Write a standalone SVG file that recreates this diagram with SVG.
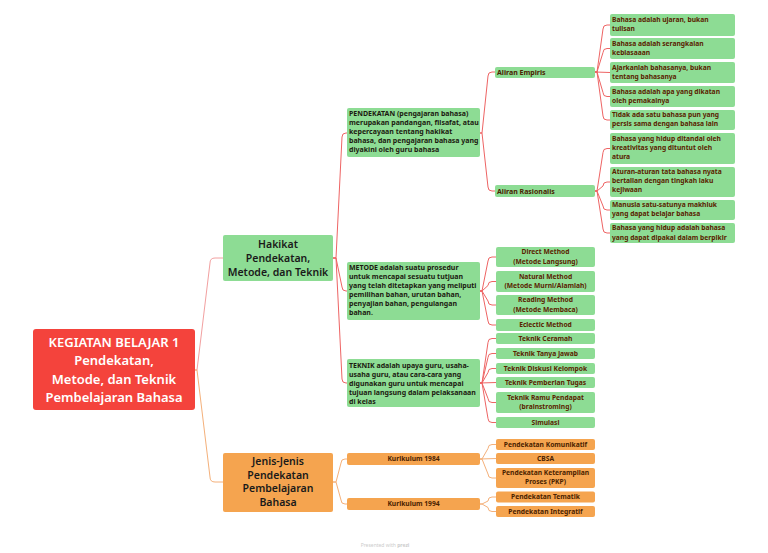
<svg xmlns="http://www.w3.org/2000/svg" width="768" height="553" viewBox="0 0 768 553">
<style>
.g{fill:#8ddc94}
.o{fill:#f5a44f}
.t{font-family:"Noto Sans","Liberation Sans",sans-serif;font-weight:bold}
.s{font-size:7px;fill:#1c1a10}
.l{font-size:6.7px;fill:#5a2300}
.c{text-anchor:middle}
.cr{fill:none;stroke:#ee6464;stroke-width:1}
.cr1{fill:none;stroke:#f2a0a0;stroke-width:1}
.co{fill:none;stroke:#f4b07a;stroke-width:1}
</style>
<rect width="768" height="553" fill="#ffffff"/>
<g id="connectors">
<path class="cr1" d="M195,370 L197,370 L210,263 Q210,258 215,258 L223,258"/>
<path class="co" d="M195,370 L197,370 L210,477 Q210,482 215,482 L223,482"/>
<path class="cr" d="M333,258 L336,258 L342,137 Q342,133 346,133 L347,133"/>
<path class="cr" d="M333,258 L336,258 L342,287 Q342,291 346,291 L347,291"/>
<path class="cr" d="M333,258 L336,258 L342,379 Q342,383 346,383 L347,383"/>
<path class="co" d="M333,482 L336,482 L341,463 Q341,459 345,459 L347,459"/>
<path class="co" d="M333,482 L336,482 L341,500 Q341,504 345,504 L347,504"/>
<path class="cr" d="M480,133 L482,133 L488,76 Q488,72 492,72 L495,72"/>
<path class="cr" d="M480,133 L482,133 L488,187 Q488,191 492,191 L495,191"/>
<path class="cr" d="M480,291 L482,291 L488,261 Q488,257 492,257 L496,257"/>
<path class="cr" d="M480,291 L482,291 L488,285.5 Q488,281.5 492,281.5 L496,281.5"/>
<path class="cr" d="M480,291 L482,291 L488,301 Q488,305 492,305 L496,305"/>
<path class="cr" d="M480,291 L482,291 L488,321 Q488,325 492,325 L496,325"/>
<path class="cr" d="M480,383 L482,383 L488,342.5 Q488,338.5 492,338.5 L496,338.5"/>
<path class="cr" d="M480,383 L482,383 L488,357.5 Q488,353.5 492,353.5 L496,353.5"/>
<path class="cr" d="M480,383 L482,383 L488,372.5 Q488,368.5 492,368.5 L496,368.5"/>
<path class="cr" d="M480,383 L496,382.5"/>
<path class="cr" d="M480,383 L482,383 L488,398.5 Q488,402.5 492,402.5 L496,402.5"/>
<path class="cr" d="M480,383 L482,383 L488,418.5 Q488,422.5 492,422.5 L496,422.5"/>
<path class="co" d="M480,459 L482,459 L488,448.5 Q488,444.5 492,444.5 L496,444.5"/>
<path class="co" d="M480,459 L496,458.5"/>
<path class="co" d="M480,459 L482,459 L488,474 Q488,478 492,478 L496,478"/>
<path class="co" d="M480,504 L482,504 L488,501 Q488,497 492,497 L496,497"/>
<path class="co" d="M480,504 L482,504 L488,507.5 Q488,511.5 492,511.5 L496,511.5"/>
<path class="cr" d="M595,72 L597,72 L603,29 Q603,25 607,25 L610,25"/>
<path class="cr" d="M595,72 L597,72 L603,52.5 Q603,48.5 607,48.5 L610,48.5"/>
<path class="cr" d="M595,72 L610,72.5"/>
<path class="cr" d="M595,72 L597,72 L603,92.5 Q603,96.5 607,96.5 L610,96.5"/>
<path class="cr" d="M595,72 L597,72 L603,116 Q603,120 607,120 L610,120"/>
<path class="cr" d="M595,191 L597,191 L603,152.5 Q603,148.5 607,148.5 L610,148.5"/>
<path class="cr" d="M595,191 L597,191 L603,186 Q603,182 607,182 L610,182"/>
<path class="cr" d="M595,191 L597,191 L603,206 Q603,210 607,210 L610,210"/>
<path class="cr" d="M595,191 L597,191 L603,229 Q603,233 607,233 L610,233"/>
</g>
<g id="root">
<rect x="33" y="329" width="162" height="81" rx="3" fill="#f4433c"/>
<text class="t c" x="114" font-size="13" fill="#ffffff" style="font-weight:600"><tspan x="114" y="346.5">KEGIATAN BELAJAR 1</tspan><tspan x="114" y="365">Pendekatan,</tspan><tspan x="114" y="383.5">Metode, dan Teknik</tspan><tspan x="114" y="402">Pembelajaran Bahasa</tspan></text>
</g>
<g id="hakikat">
<rect class="g" x="223" y="235" width="110" height="46" rx="2"/>
<text class="t c" font-size="10.5" fill="#1a1a1a" style="font-weight:600"><tspan x="278" y="247.8">Hakikat</tspan><tspan x="278" y="261.8">Pendekatan,</tspan><tspan x="278" y="275.8">Metode, dan Teknik</tspan></text>
</g>
<g id="jenis">
<rect class="o" x="223" y="453" width="110" height="59" rx="2"/>
<text class="t c" font-size="10.5" fill="#1a1a1a" style="font-weight:600"><tspan x="278" y="465.3">Jenis-Jenis</tspan><tspan x="278" y="478.8">Pendekatan</tspan><tspan x="278" y="492.3">Pembelajaran</tspan><tspan x="278" y="505.8">Bahasa</tspan></text>
</g>
<g id="pendekatan">
<rect class="g" x="347" y="108" width="133" height="49" rx="2"/>
<text class="t s"><tspan x="349" y="115.6">PENDEKATAN (pengajaran bahasa)</tspan><tspan x="349" y="124.6">merupakan pandangan, filsafat, atau</tspan><tspan x="349" y="133.6">kepercayaan tentang hakikat</tspan><tspan x="349" y="142.6">bahasa, dan pengajaran bahasa yang</tspan><tspan x="349" y="151.6">diyakini oleh guru bahasa</tspan></text>
</g>
<g id="metode">
<rect class="g" x="347" y="262" width="133" height="58" rx="2"/>
<text class="t s"><tspan x="349" y="269.6">METODE adalah suatu prosedur</tspan><tspan x="349" y="278.6">untuk mencapai sesuatu tutjuan</tspan><tspan x="349" y="287.6">yang telah ditetapkan yang meliputi</tspan><tspan x="349" y="296.6">pemilihan bahan, urutan bahan,</tspan><tspan x="349" y="305.6">penyajian bahan, pengulangan</tspan><tspan x="349" y="314.6">bahan.</tspan></text>
</g>
<g id="teknik">
<rect class="g" x="347" y="359" width="133" height="48" rx="2"/>
<text class="t s"><tspan x="349" y="367.6">TEKNIK adalah upaya guru, usaha-</tspan><tspan x="349" y="376.6">usaha guru, atau cara-cara yang</tspan><tspan x="349" y="385.6">digunakan guru untuk mencapai</tspan><tspan x="349" y="394.6">tujuan langsung dalam pelaksanaan</tspan><tspan x="349" y="403.6">di kelas</tspan></text>
</g>
<g id="aliran-empiris">
<rect class="g" x="495" y="67" width="100" height="11" rx="2"/>
<text class="t s" x="497" y="74.8" style="fill:#4a2200">Aliran Empiris</text>
</g>
<g id="aliran-rasionalis">
<rect class="g" x="495" y="185" width="100" height="12" rx="2"/>
<text class="t s" x="497" y="193.7" style="fill:#4a2200">Aliran Rasionalis</text>
</g>
<g id="direct-method">
<rect class="g" x="496" y="247" width="99" height="20" rx="2"/>
<text class="t l c"><tspan x="545.5" y="254.3">Direct Method</tspan><tspan x="545.5" y="263.8">(Metode Langsung)</tspan></text>
</g>
<g id="natural-method">
<rect class="g" x="496" y="271" width="99" height="21" rx="2"/>
<text class="t l c"><tspan x="545.5" y="278.5">Natural Method</tspan><tspan x="545.5" y="287.5">(Metode Murni/Alamiah)</tspan></text>
</g>
<g id="reading-method">
<rect class="g" x="496" y="295" width="99" height="20" rx="2"/>
<text class="t l c"><tspan x="545.5" y="302.3">Reading Method</tspan><tspan x="545.5" y="311.5">(Metode Membaca)</tspan></text>
</g>
<g id="eclectic-method">
<rect class="g" x="496" y="319" width="99" height="12" rx="2"/>
<text class="t l c" x="545.5" y="327.3">Eclectic Method</text>
</g>
<g id="teknik-ceramah">
<rect class="g" x="496" y="333" width="99" height="11" rx="2"/>
<text class="t l c" x="545.5" y="340.8">Teknik Ceramah</text>
</g>
<g id="teknik-tanya-jawab">
<rect class="g" x="496" y="348" width="99" height="11" rx="2"/>
<text class="t l c" x="545.5" y="355.8">Teknik Tanya Jawab</text>
</g>
<g id="teknik-diskusi">
<rect class="g" x="496" y="363" width="99" height="11" rx="2"/>
<text class="t l c" x="545.5" y="370.8">Teknik Diskusi Kelompok</text>
</g>
<g id="teknik-pemberian">
<rect class="g" x="496" y="377" width="99" height="11" rx="2"/>
<text class="t l c" x="545.5" y="384.8">Teknik Pemberian Tugas</text>
</g>
<g id="teknik-ramu">
<rect class="g" x="496" y="392" width="99" height="21" rx="2"/>
<text class="t l c"><tspan x="545.5" y="399.8">Teknik Ramu Pendapat</tspan><tspan x="545.5" y="408.8">(brainstroming)</tspan></text>
</g>
<g id="simulasi">
<rect class="g" x="496" y="417" width="99" height="11" rx="2"/>
<text class="t l c" x="545.5" y="424.8">Simulasi</text>
</g>
<g id="kurikulum-1984">
<rect class="o" x="347" y="453" width="133" height="12" rx="2"/>
<text class="t l c" x="413.5" y="461.3" style="fill:#4a2200">Kurikulum 1984</text>
</g>
<g id="kurikulum-1994">
<rect class="o" x="347" y="498" width="133" height="12" rx="2"/>
<text class="t l c" x="413.5" y="506.3" style="fill:#4a2200">Kurikulum 1994</text>
</g>
<g id="komunikatif">
<rect class="o" x="496" y="439" width="99" height="11" rx="2"/>
<text class="t l c" x="545.5" y="446.8" style="fill:#4a2200">Pendekatan Komunikatif</text>
</g>
<g id="cbsa">
<rect class="o" x="496" y="453" width="99" height="11" rx="2"/>
<text class="t l c" x="545.5" y="460.8" style="fill:#4a2200">CBSA</text>
</g>
<g id="pkp">
<rect class="o" x="496" y="468" width="99" height="20" rx="2"/>
<text class="t l c" style="fill:#4a2200"><tspan x="545.5" y="475.3">Pendekatan Keterampilan</tspan><tspan x="545.5" y="484.3">Proses (PKP)</tspan></text>
</g>
<g id="tematik">
<rect class="o" x="496" y="491.5" width="99" height="11" rx="2"/>
<text class="t l c" x="545.5" y="499.3" style="fill:#4a2200">Pendekatan Tematik</text>
</g>
<g id="integratif">
<rect class="o" x="496" y="506" width="99" height="11" rx="2"/>
<text class="t l c" x="545.5" y="513.8" style="fill:#4a2200">Pendekatan Integratif</text>
</g>
<g id="leaf-1">
<rect class="g" x="610" y="14" width="125" height="22" rx="2"/>
<text class="t l"><tspan x="612" y="22.3">Bahasa adalah ujaran, bukan</tspan><tspan x="612" y="31.3">tulisan</tspan></text>
</g>
<g id="leaf-2">
<rect class="g" x="610" y="38" width="125" height="21" rx="2"/>
<text class="t l"><tspan x="612" y="46.3">Bahasa adalah serangkaian</tspan><tspan x="612" y="55.3">kebiasaaan</tspan></text>
</g>
<g id="leaf-3">
<rect class="g" x="610" y="62" width="125" height="21" rx="2"/>
<text class="t l"><tspan x="612" y="70.3">Ajarkanlah bahasanya, bukan</tspan><tspan x="612" y="79.3">tentang bahasanya</tspan></text>
</g>
<g id="leaf-4">
<rect class="g" x="610" y="86" width="125" height="21" rx="2"/>
<text class="t l"><tspan x="612" y="93.5">Bahasa adalah apa yang dikatan</tspan><tspan x="612" y="102.5">oleh pemakainya</tspan></text>
</g>
<g id="leaf-5">
<rect class="g" x="610" y="110" width="125" height="20" rx="2"/>
<text class="t l"><tspan x="612" y="117.3">Tidak ada satu bahasa pun yang</tspan><tspan x="612" y="126.3">persis sama dengan bahasa lain</tspan></text>
</g>
<g id="leaf-6">
<rect class="g" x="610" y="133" width="125" height="31" rx="2"/>
<text class="t l"><tspan x="612" y="141.3">Bahasa yang hidup ditandai oleh</tspan><tspan x="612" y="150.3">kreativitas yang dituntut oleh</tspan><tspan x="612" y="159.3">atura</tspan></text>
</g>
<g id="leaf-7">
<rect class="g" x="610" y="167" width="125" height="30" rx="2"/>
<text class="t l"><tspan x="612" y="174.3">Aturan-aturan tata bahasa nyata</tspan><tspan x="612" y="183.3">bertalian dengan tingkah laku</tspan><tspan x="612" y="192.3">kejiwaan</tspan></text>
</g>
<g id="leaf-8">
<rect class="g" x="610" y="200" width="125" height="20" rx="2"/>
<text class="t l"><tspan x="612" y="207.3">Manusia satu-satunya makhluk</tspan><tspan x="612" y="216.3">yang dapat belajar bahasa</tspan></text>
</g>
<g id="leaf-9">
<rect class="g" x="610" y="223" width="125" height="20" rx="2"/>
<text class="t l"><tspan x="612" y="230.3">Bahasa yang hidup adalah bahasa</tspan><tspan x="612" y="239.8">yang dapat dipakai dalam berpikir</tspan></text>
</g>
<text x="385" y="547" font-family="Noto Sans, Liberation Sans, sans-serif" font-size="5" fill="#cccccc" text-anchor="middle">Presented with <tspan font-weight="bold">prezi</tspan></text>
</svg>
